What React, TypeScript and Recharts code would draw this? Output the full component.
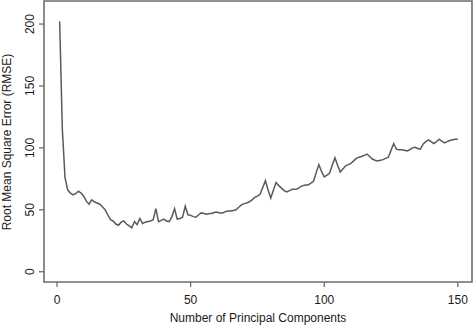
import React from "react";
import { LineChart, Line, XAxis, YAxis, ReferenceArea } from "recharts";

const components: number[] = Array.from({ length: 150 }, (_, i) => i + 1);

const rmse: number[] = [
  202, 115, 76, 66, 63.5, 62, 63, 65, 63.5, 61,
  57, 54.5, 58, 56.5, 55.5, 54.5, 52.5, 50, 46, 42,
  41, 38.5, 37.5, 40, 41, 38.5, 37, 35.5, 40.5, 38,
  43, 39, 40, 40.5, 41, 42, 51, 40.5, 41.5, 42.5,
  41, 40.5, 44.5, 51, 42.5, 43, 44, 53, 46, 45.5,
  44.5, 44, 46, 47.5, 47, 46.5, 47, 47, 48, 48,
  47.5, 47.5, 48.5, 49, 49, 49.5, 50, 52, 54, 55,
  55.5, 56.5, 58, 60, 61, 62.5, 68, 73.5, 66, 59.5,
  66, 72, 69.5, 67.5, 65.5, 64.5, 65.5, 66.5, 66.5, 67,
  68.5, 69.5, 70, 70, 71.5, 73, 80, 86.5, 81, 76.5,
  78, 79.5, 86, 92, 86, 80.5, 83, 85.5, 86.5, 87.5,
  89.5, 91.5, 92.5, 93, 94, 95, 93, 91, 90, 89.5,
  90, 90.5, 91.5, 92.5, 98, 103.5, 99, 98.5, 98.5, 98,
  97.5, 98.5, 100, 100.5, 99.5, 99, 103, 105, 106.5, 105,
  103.5, 105, 107, 105.5, 104, 105, 106, 106.5, 107, 107,
];

const xTicks: number[] = [0, 50, 100, 150];
const yTicks: number[] = [0, 50, 100, 150, 200];

const xDomain: [number, number] = [-4.86, 155.3];
const yDomain: [number, number] = [-8.3, 218.6];

const data = components.map((n, i) => ({ n, v: rmse[i] }));

const FONT = "'Liberation Sans', Arial, Helvetica, sans-serif";
const TEXT = "#1a1a1a";
const AXIS = "#6e6e6e";

const YTick = (props: any) => {
  const { x, y, payload } = props;
  const tx = x - 3;
  return (
    <text
      x={tx}
      y={y}
      transform={`rotate(-90, ${tx}, ${y})`}
      textAnchor="middle"
      fontSize={12}
      fontFamily={FONT}
      fill={TEXT}
    >
      {payload.value}
    </text>
  );
};

const XTick = (props: any) => {
  const { x, y, payload } = props;
  return (
    <text x={x} y={y} dy={15} textAnchor="middle" fontSize={12} fontFamily={FONT} fill={TEXT}>
      {payload.value}
    </text>
  );
};

export default function App() {
  return (
    <div style={{ position: "absolute", left: 0, top: 0, background: "#fff" }}>
      <LineChart
        width={474}
        height={327}
        data={data}
        margin={{ top: 1, right: 2, bottom: 0, left: 0 }}
      >
        <XAxis
          dataKey="n"
          type="number"
          domain={xDomain}
          ticks={xTicks}
          allowDataOverflow
          axisLine={false}
          tickLine={{ stroke: AXIS, strokeWidth: 1.3 }}
          tickSize={5}
          tickMargin={2}
          tick={<XTick />}
          height={45}
          label={{
            content: () => (
              <text x={258} y={322} textAnchor="middle" fontSize={12} fontFamily={FONT} fill={TEXT}>
                Number of Principal Components
              </text>
            ),
          }}
        />
        <YAxis
          type="number"
          domain={yDomain}
          ticks={yTicks}
          allowDataOverflow
          axisLine={false}
          tickLine={{ stroke: AXIS, strokeWidth: 1.3 }}
          tickSize={5}
          tickMargin={2}
          tick={<YTick />}
          width={44}
          label={{
            content: () => (
              <text
                x={11}
                y={142}
                transform="rotate(-90, 11, 142)"
                textAnchor="middle"
                fontSize={12}
                fontFamily={FONT}
                fill={TEXT}
              >
                Root Mean Square Error (RMSE)
              </text>
            ),
          }}
        />
        <ReferenceArea
          x1={xDomain[0]}
          x2={xDomain[1]}
          y1={yDomain[0]}
          y2={yDomain[1]}
          fill="none"
          stroke={AXIS}
          strokeWidth={1.6}
          ifOverflow="visible"
        />
        <Line
          type="linear"
          dataKey="v"
          stroke="#5a5a5a"
          strokeWidth={1.5}
          dot={false}
          isAnimationActive={false}
        />
      </LineChart>
    </div>
  );
}
